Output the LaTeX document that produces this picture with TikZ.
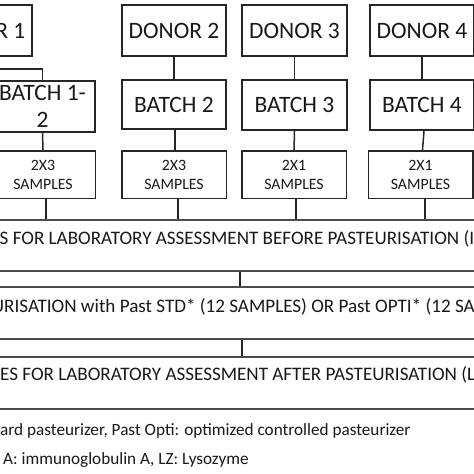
\documentclass[tikz,border=0pt]{standalone}
\usepackage{fontspec}
\setmainfont{Carlito}
\begin{document}
\begin{tikzpicture}[x=1pt,y=-1pt,
  box/.style={draw=black!85, line width=1.7pt, minimum width=104.5pt, minimum height=51.5pt, inner sep=0pt, align=center, text=black!90, font=\fontsize{23.5}{27}\selectfont},
  smpbox/.style={box, line width=1.5pt, minimum height=47.5pt, font=\fontsize{15.8}{19}\selectfont},
  wide/.style={draw=black!70, line width=1.6pt, inner sep=0pt},
  widetext/.style={inner sep=0pt, anchor=base west, text=black!90, font=\fontsize{19.1}{22}\selectfont},
  notetext/.style={widetext, font=\fontsize{17.2}{20}\selectfont},
  link/.style={draw=black!85, line width=1.5pt}]
\path[fill=white] (0,0) rectangle (474,474);
\useasboundingbox (0,0) rectangle (474,474);
% donors
\node[box] (d1) at (-20,30.5) {DONOR 1};
\node[box] (d2) at (174,30.5) {DONOR 2};
\node[box] (d3) at (294.5,30.5) {DONOR 3};
\node[box] (d4) at (422,30.5) {DONOR 4};
% batches
\node[box] (b1) at (42.5,106.5) {BATCH 1-\\2};
\node[box, minimum height=49.5pt] (b2) at (174,104.5) {BATCH 2};
\node[box, minimum height=50.5pt] (b3) at (294.5,105) {BATCH 3};
\node[box, minimum height=50.5pt] (b4) at (422,105) {BATCH 4};
% samples
\node[smpbox] (s1) at (43,174.5) {2X3\\SAMPLES};
\node[smpbox] (s2) at (174,174.5) {2X3\\SAMPLES};
\node[smpbox] (s3) at (294,174.5) {2X1\\SAMPLES};
\node[smpbox] (s4) at (420.5,174.5) {2X1\\SAMPLES};
% wide boxes
\node[wide, minimum width=522pt, minimum height=51pt] (before) at (240,245.5) {};
\node[wide, minimum width=516pt, minimum height=52pt] (past) at (242,313) {};
\node[wide, minimum width=516pt, minimum height=52pt] (after) at (242,383) {};
% texts
\node[widetext] (tbefore) at (-0.5,244) {S FOR LABORATORY ASSESSMENT BEFORE PASTEURISATION (I};
\node[widetext] (tpast) at (4,312) {\llap{U}RISATION with Past STD* (12 SAMPLES) OR Past OPTI* (12 SA};
\node[widetext] (tafter) at (0,380.5) {ES FOR LABORATORY ASSESSMENT AFTER PASTEURISATION (L};
\node[notetext] (n1) at (0,435) {ard pasteurizer, Past Opti: optimized controlled pasteurizer};
\node[notetext] (n2) at (3,464) {A: immunoglobulin A, LZ: Lysozyme};
% connectors
\draw[link] (d1.south) -- ++(0,12) -| (b1.north);
\draw[link] (d2.south) -- (b2.north);
\draw[link] (d3.south) -- (b3.north);
\draw[link] (d4.south) -- (b4.north);
\draw[link] (b1.south) -- (s1.north);
\draw[link] ([xshift=1pt]b2.south) -- ([xshift=1pt]s2.north);
\draw[link] (b3.south) -- (s3.north);
\draw[link] ([xshift=2pt]b4.south) -- ([xshift=2pt]s4.north);
\draw[link] ([xshift=3pt]s1.south) -- ([xshift=3pt]s1.south |- before.north);
\draw[link] ([xshift=4pt]s2.south) -- ([xshift=4pt]s2.south |- before.north);
\draw[link] ([xshift=2pt]s3.south) -- ([xshift=2pt]s3.south |- before.north);
\draw[link] ([xshift=4.5pt]s4.south) -- ([xshift=4.5pt]s4.south |- before.north);
\draw[link] (before.south) -- (before.south |- past.north);
\draw[link] (past.south) -- (past.south |- after.north);
\end{tikzpicture}
\end{document}
